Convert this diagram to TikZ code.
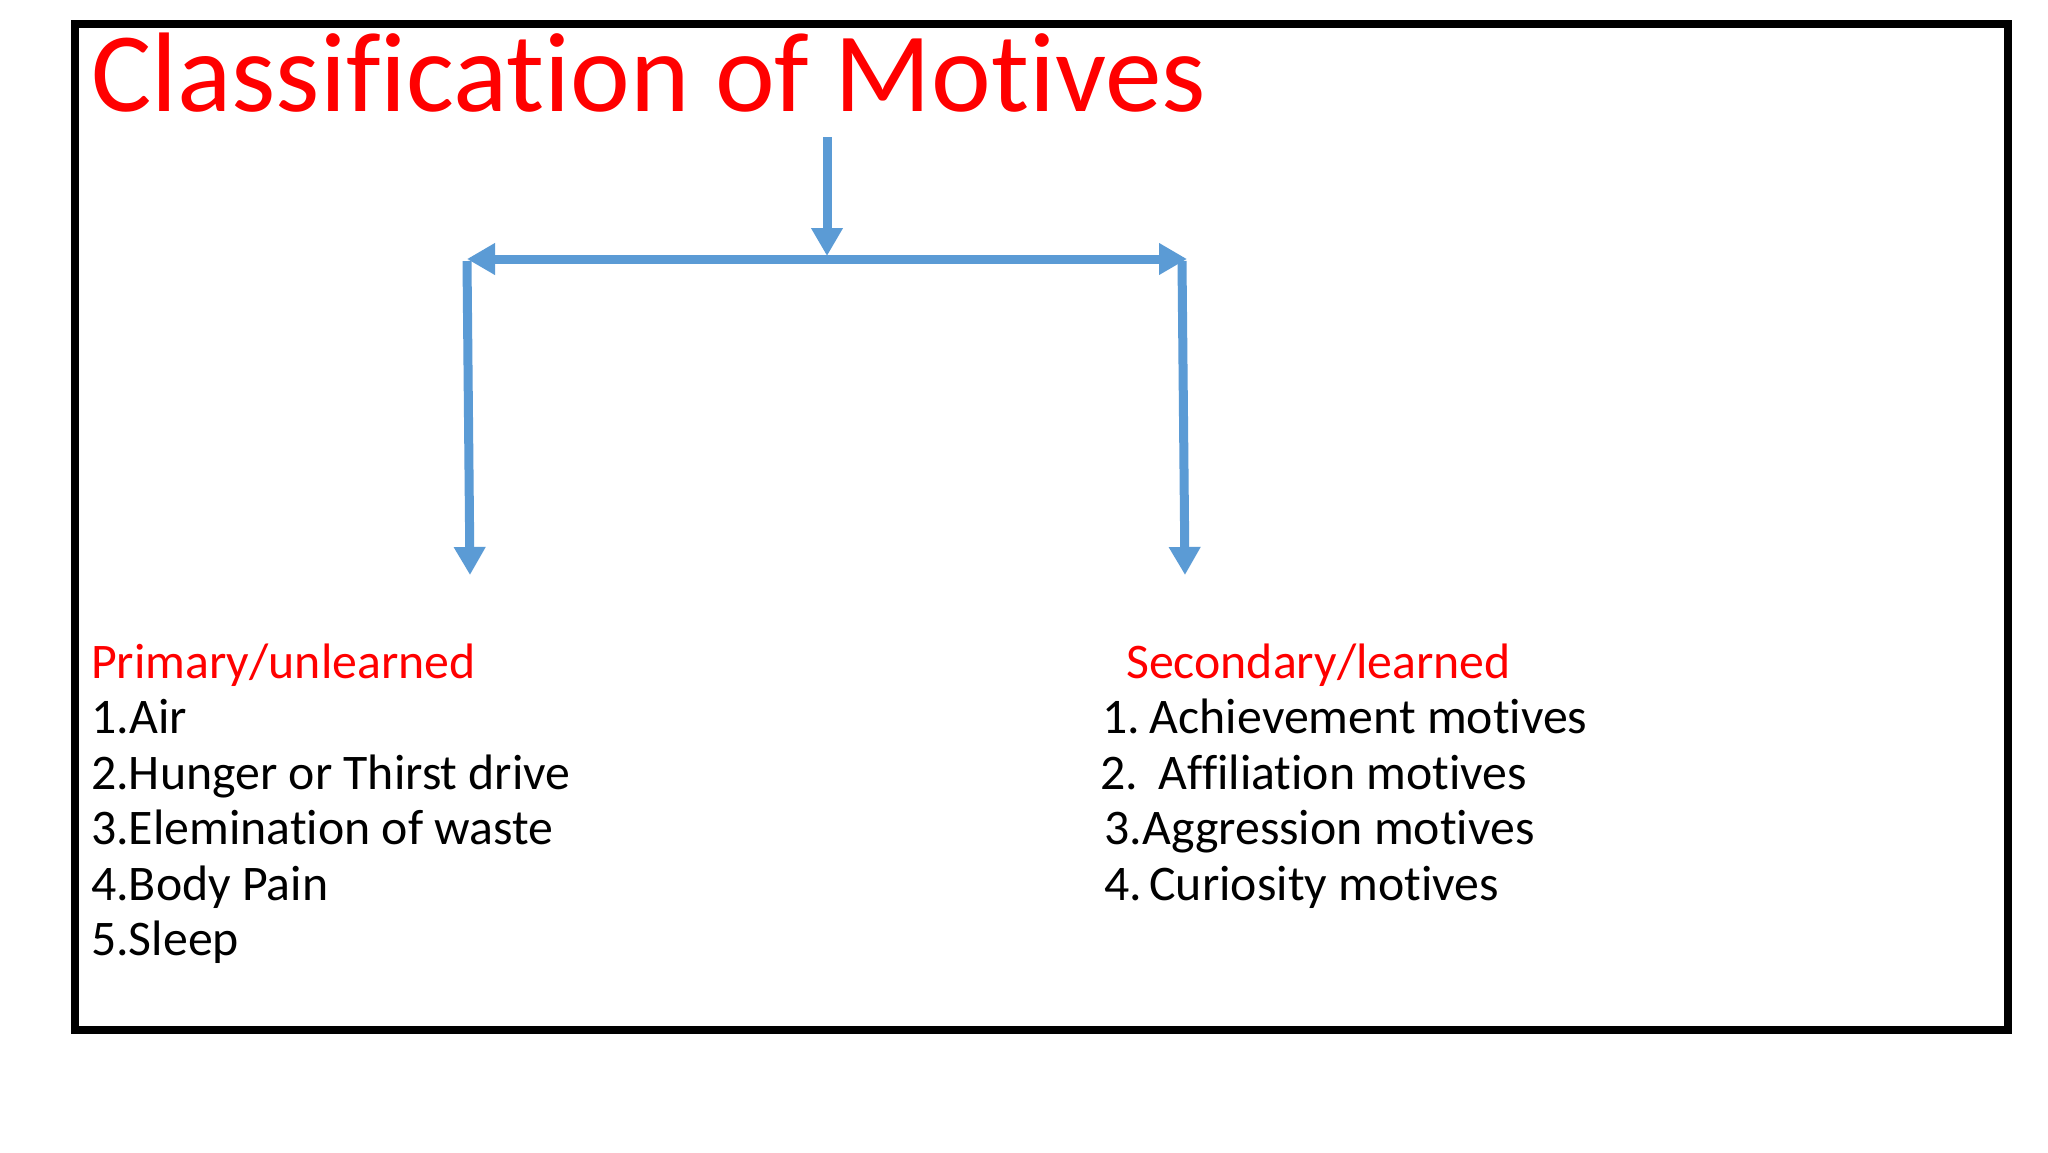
\documentclass[tikz,border=0pt]{standalone}
\usepackage{fontspec}
\setmainfont{Carlito}[RawFeature=-liga]
\usetikzlibrary{arrows.meta}
\definecolor{arrowblue}{HTML}{5B9BD5}
\definecolor{titlered}{HTML}{FF0000}
\begin{document}
\begin{tikzpicture}[x=1pt,y=-1pt,
  txt/.style={anchor=base west, inner sep=0pt, font=\fontsize{49.8}{55}\selectfont},
  headtxt/.style={txt, text=titlered},
  titletxt/.style={anchor=base west, inner sep=0pt, text=titlered, font=\fontsize{113.2}{134}\selectfont},
  conn/.style={draw=arrowblue, line width=9pt, -{Triangle[width=30pt,length=28pt]}},
  dconn/.style={draw=arrowblue, line width=9pt, {Triangle[width=30pt,length=28pt]}-{Triangle[width=30pt,length=28pt]}},
  frame/.style={draw=black, line width=8.5pt},
]
\useasboundingbox (0,0) rectangle (2048,1152);
\fill[white] (0,0) rectangle (2048,1152);
\draw[frame] (75,24) rectangle (2008,1030);

\node[titletxt] (title) at (91,111) {Classification of Motives};

% connector points
\coordinate (src) at (827,137);
\coordinate (junc) at (827,256);
\coordinate (ltip) at (467,259);
\coordinate (rtip) at (1187,259);
\coordinate (ltop) at (467,261);
\coordinate (rtop) at (1182,261);
\coordinate (lend) at (470,575);
\coordinate (rend) at (1185,575);

\draw[dconn] (ltip) -- (rtip);
\draw[conn] (src) -- (junc);
\draw[conn] (ltop) -- (lend);
\draw[conn] (rtop) -- (rend);

% left column
\node[headtxt] (prim) at (91,678) {Primary/unlearned};
\node[txt] (p1) at (91,733.5) {1.Air};
\node[txt] (p2) at (91,789) {2.Hunger or Thirst drive};
\node[txt] (p3) at (91,844.5) {3.Elemination of waste};
\node[txt] (p4) at (91,900) {4.Body Pain};
\node[txt] (p5) at (91,955.5) {5.Sleep};

% right column
\node[headtxt] (sec) at (1126,678) {Secondary/learned};
\node[txt] (s1) at (1102,733.5) {1.\hspace{0.2em}Achievement motives};
\node[txt] (s2) at (1100,789) {2.\hspace{0.41em}Affiliation motives};
\node[txt] (s3) at (1104,844.5) {3.Aggression motives};
\node[txt] (s4) at (1104,900) {4.\hspace{0.15em}Curiosity motives};
\end{tikzpicture}
\end{document}
